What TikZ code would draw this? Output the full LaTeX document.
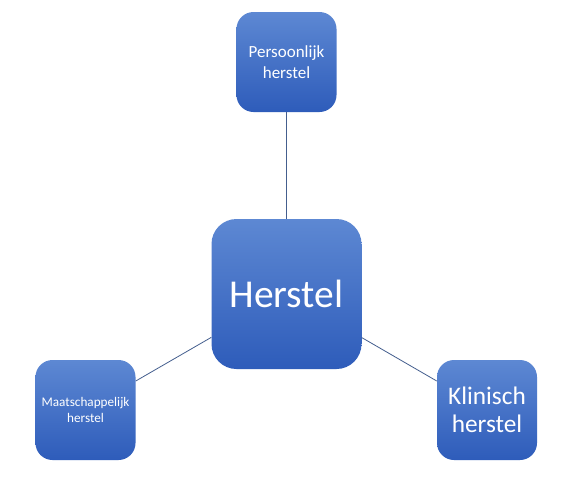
\documentclass[tikz,border=0pt]{standalone}
\usepackage{fontspec}
\setmainfont{Carlito}
\definecolor{boxtop}{HTML}{5D88D3}
\definecolor{boxbot}{HTML}{2E5CBA}
\definecolor{linkcol}{HTML}{445E8E}
\begin{document}
\begin{tikzpicture}[x=1pt,y=-1pt,
  box/.style={rectangle,draw=none,top color=boxtop,bottom color=boxbot,
    text=white,align=center,inner sep=2pt,minimum width=100pt,minimum height=100pt,
    rounded corners=17pt},
  bigbox/.style={box,minimum width=150pt,minimum height=150pt,rounded corners=25pt},
  link/.style={draw=linkcol,line width=0.8pt}]
\useasboundingbox[fill=white] (0,0) rectangle (570,485);
\node[bigbox,font=\fontsize{39.5}{46}\selectfont] (c) at (286.5,294) {Herstel};
\node[box,font=\fontsize{17}{20.5}\selectfont] (t) at (286.5,62) {Persoonlijk\\herstel};
\node[box,font=\fontsize{13.2}{16}\selectfont] (bl) at (85.5,410) {Maatschappelijk\\herstel};
\node[box,font=\fontsize{25.3}{28.5}\selectfont] (br) at (487,410) {Klinisch\\herstel};
\draw[link] (t) -- (c);
\draw[link] (c) -- (bl);
\draw[link] (c) -- (br);
\end{tikzpicture}
\end{document}
